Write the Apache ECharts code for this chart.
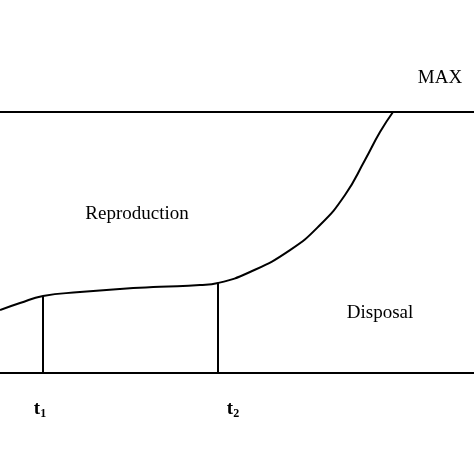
<!DOCTYPE html>
<html><head><meta charset="utf-8">
<script src="https://cdn.jsdelivr.net/npm/echarts@6/dist/echarts.min.js"></script>
<style>html,body{margin:0;padding:0;background:#fff}#c{width:474px;height:474px}</style>
</head><body><div id="c"></div>
<script>
const curveX = [0,20,43,80,120,160,200,218,250,290,320,345,365,380,393];
const curveY = [24.1,26.8,29.5,31.0,32.2,33.0,33.7,34.5,38.7,47.1,56.7,68.2,81.6,92.3,100];
const markers = [{name:'1', x:43, y:29.5, lx:40}, {name:'2', x:218, y:34.5, lx:233}];
const maxLevel = 100;
const regionLabels = [{text:'Reproduction', x:137, y:61}, {text:'Disposal', x:380, y:23}, {text:'MAX', x:440, y:113}];

const ch = echarts.init(document.getElementById('c'));
const font = 'Liberation Serif, DejaVu Serif, serif';
ch.setOption({
  animation:false,
  grid:{left:0,right:0,top:112,bottom:101},
  xAxis:{type:'value',min:0,max:474,axisLine:{lineStyle:{color:'#000',width:2}},axisTick:{show:false},axisLabel:{show:false},splitLine:{show:false}},
  yAxis:{type:'value',min:0,max:100,axisLine:{show:false},axisTick:{show:false},axisLabel:{show:false},splitLine:{show:false}},
  series:[
    {type:'line',smooth:true,symbol:'none',lineStyle:{color:'#000',width:2},
     data:curveX.map((x,i)=>[x,curveY[i]])},
    {type:'line',symbol:'none',lineStyle:{color:'#000',width:2},data:[[0,maxLevel],[474,maxLevel]]},
    ...markers.map(m=>({type:'line',symbol:'none',lineStyle:{color:'#000',width:2},data:[[m.x,0],[m.x,m.y]]}))
  ]
});
const g = [];
regionLabels.forEach(r=>{
  const p = ch.convertToPixel({gridIndex:0},[r.x,r.y]);
  g.push({type:'text',x:p[0],y:p[1],style:{text:r.text,fill:'#000',font:'19px '+font,align:'center',verticalAlign:'middle'}});
});
markers.forEach(m=>{
  const p = ch.convertToPixel({gridIndex:0},[m.lx,-14]);
  g.push({type:'text',x:p[0],y:p[1],style:{text:'{t|t}{s|'+m.name+'}',align:'center',verticalAlign:'middle',
    rich:{t:{font:'bold 19px '+font,fill:'#000'},s:{font:'bold 12px '+font,fill:'#000',padding:[8,0,0,0]}}}});
});
ch.setOption({graphic:g});
</script></body></html>
